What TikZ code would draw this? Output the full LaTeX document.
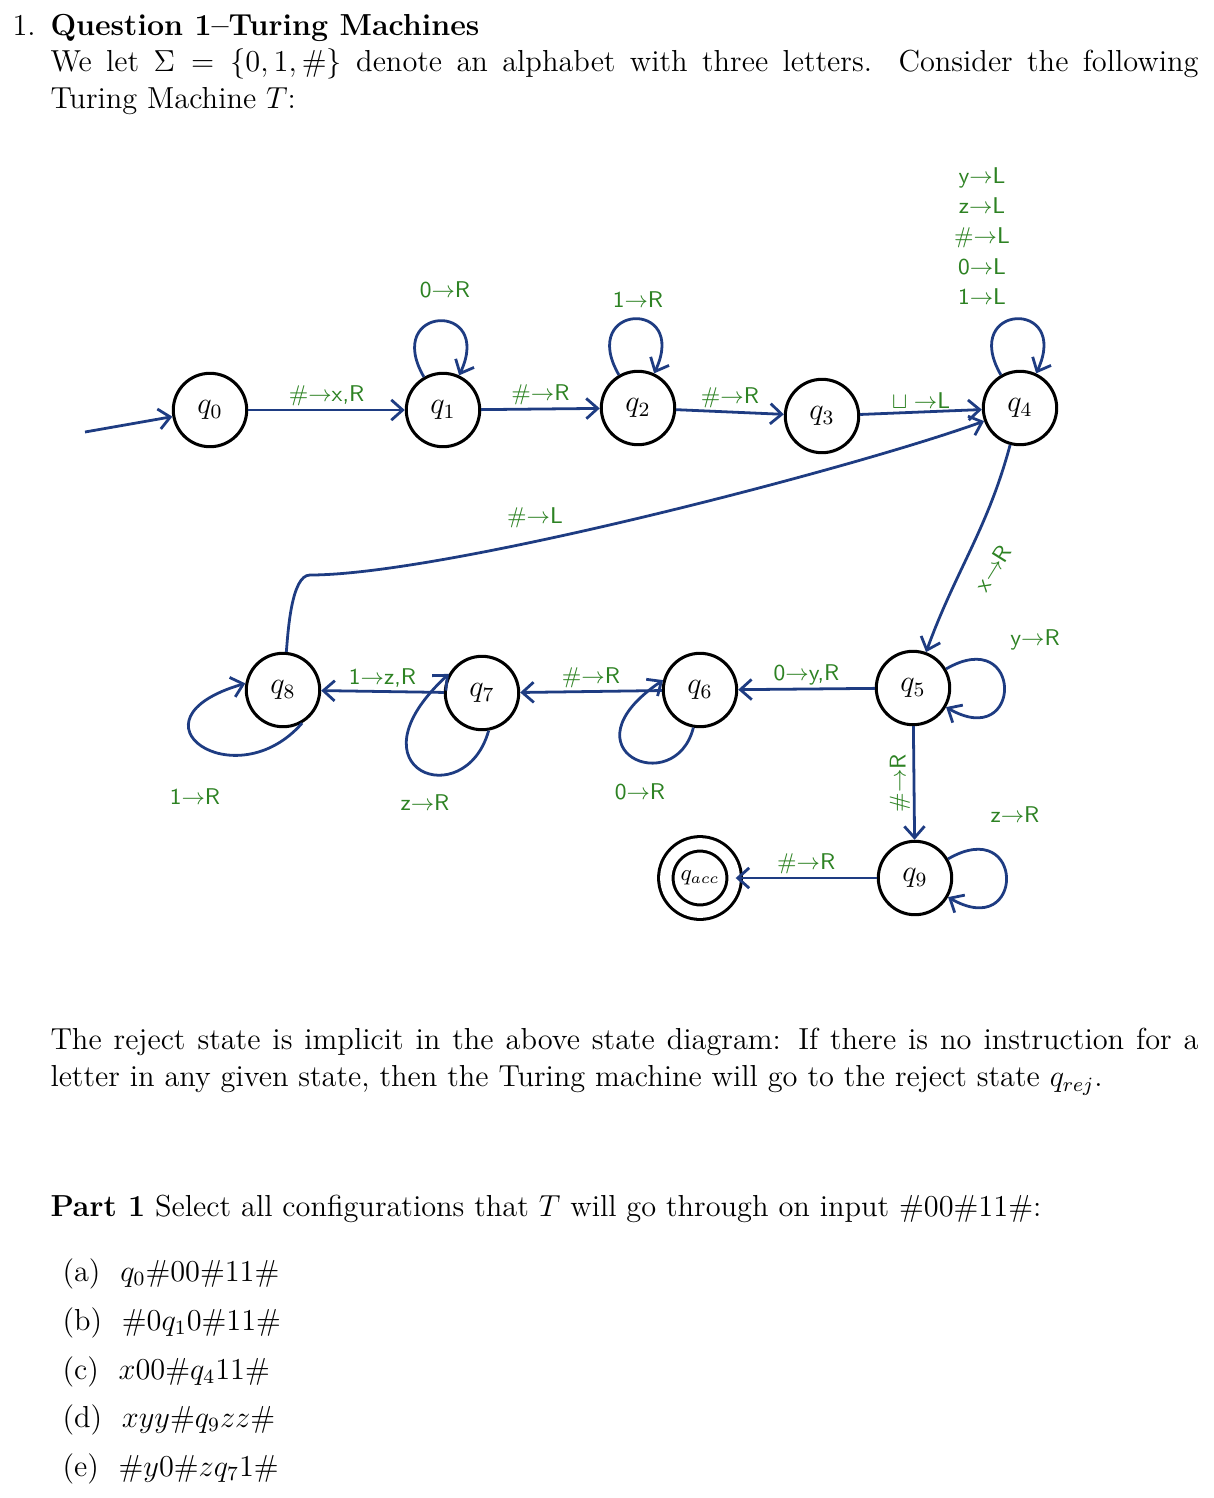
\documentclass[tikz,border=0pt]{standalone}
\usetikzlibrary{arrows.meta}
\definecolor{hg}{RGB}{45,130,35}
\definecolor{hb}{RGB}{30,60,130}
\newcommand{\bodyfont}{\fontsize{12}{14.6}\selectfont}
\begin{document}
\begin{tikzpicture}[x=0.395pt,y=-0.395pt,
  st/.style={circle,draw=black,line width=1.2pt,minimum size=29pt,inner sep=0pt,font=\large},
  tr/.style={draw=hb,line width=1.1pt,-{Straight Barb[length=4.5pt,width=8pt]}},
  lb/.style={text=hg,font=\sffamily\small,inner sep=1pt}]
\useasboundingbox (0,0) rectangle (1214,1498);
\node[anchor=base west,inner sep=0,font=\bodyfont] (n1) at (12,35) {1.};
\node[anchor=base west,inner sep=0,font=\bodyfont\bfseries] (h1) at (50,35) {Question 1--Turing Machines};
\node[anchor=north west,inner sep=0,text width=453.5pt,align=justify,font=\bodyfont] (p1) at (50,48) {We let $\Sigma=\{0,1,\#\}$ denote an alphabet with three letters. Consider the following\linebreak Turing Machine $T$:};
% states
\node[st] (q0) at (210,410) {$q_0$};
\node[st] (q1) at (443,410) {$q_1$};
\node[st] (q2) at (638,408) {$q_2$};
\node[st] (q3) at (822,416) {$q_3$};
\node[st] (q4) at (1020,408) {$q_4$};
\node[st] (q5) at (913,688) {$q_5$};
\node[st] (q6) at (700,690) {$q_6$};
\node[st] (q7) at (482,693) {$q_7$};
\node[st] (q8) at (283,690) {$q_8$};
\node[st] (q9) at (915,878) {$q_9$};
\node[st,double,double distance=4.5pt,minimum size=27pt,font=\small] (qa) at (700,878) {$q_{acc}$};
\coordinate (s) at (85,432);
\draw[tr] (s) -- (q0);
\draw[tr] (q0) -- node[lb,above]{\#$\to$x,R} (q1);
\draw[tr] (q1) -- node[lb,above]{\#$\to$R} (q2);
\draw[tr] (q2) -- node[lb,above]{\#$\to$R} (q3);
\draw[tr] (q3) -- node[lb,above]{$\sqcup\to$L} (q4);
\draw[tr] (q1) to[out=120,in=65,looseness=6] (q1);
\node[lb] (l1) at (445,290) {0$\to$R};
\draw[tr] (q2) to[out=120,in=65,looseness=6] (q2);
\node[lb] (l2) at (638,300) {1$\to$R};
\draw[tr] (q4) to[out=120,in=65,looseness=6] (q4);
\node[lb,align=center] (l4) at (982,236) {y$\to$L\\[1pt]z$\to$L\\[1pt]\#$\to$L\\[1pt]0$\to$L\\[1pt]1$\to$L};
\draw[tr] (q4) to[out=-105,in=70] (q5);
\node[lb,rotate=58] (l45) at (993,568) {x$\to$R};
\draw[tr] (q8) to[out=85,in=180,looseness=0.6] (310,575) to[out=0,in=200,looseness=0.5] (q4);
\node[lb] (l84) at (535,518) {\#$\to$L};
\draw[tr] (q5) -- node[lb,above]{0$\to$y,R} (q6);
\draw[tr] (q6) -- node[lb,above]{\#$\to$R} (q7);
\draw[tr] (q7) -- node[lb,above]{1$\to$z,R} (q8);
\draw[tr] (q5) to[out=30,in=-30,looseness=6] (q5);
\node[lb] (l5) at (1035,640) {y$\to$R};
\draw[tr] (q6.-100) .. controls (675,800) and (560,750) .. (q6.165);
\node[lb] (l6) at (640,792) {0$\to$R};
\draw[tr] (q7.-80) .. controls (465,815) and (345,770) .. (q7.150);
\node[lb] (l7) at (425,803) {z$\to$R};
\draw[tr] (q8.-60) .. controls (235,800) and (120,720) .. (q8.170);
\node[lb] (l8) at (195,797) {1$\to$R};
\draw[tr] (q5) -- node[lb,rotate=90,anchor=south]{\#$\to$R} (q9);
\draw[tr] (q9) to[out=30,in=-30,looseness=6] (q9);
\node[lb] (l9) at (1015,815) {z$\to$R};
\draw[tr] (q9) -- node[lb,above]{\#$\to$R} (qa);
% lower text
\node[anchor=north west,inner sep=0,text width=453.5pt,align=justify,font=\bodyfont] (p2) at (50,1028) {The reject state is implicit in the above state diagram: If there is no instruction for a letter in any given state, then the Turing machine will go to the reject state $q_{rej}$.};
\node[anchor=base west,inner sep=0,font=\bodyfont] (p3) at (50,1216) {\textbf{Part 1} Select all configurations that $T$ will go through on input \#00\#11\#:};
\foreach \y/\t/\c in {1281/(a)/{$q_0\#00\#11\#$},1330/(b)/{$\#0q_10\#11\#$},1379/(c)/{$x00\#q_411\#$},1427/(d)/{$xyy\#q_9zz\#$},1476/(e)/{$\#y0\#zq_71\#$}}{
  \node[anchor=base west,inner sep=0,font=\bodyfont] at (62,\y) {\t\ \ \c};
}
\end{tikzpicture}
\end{document}
